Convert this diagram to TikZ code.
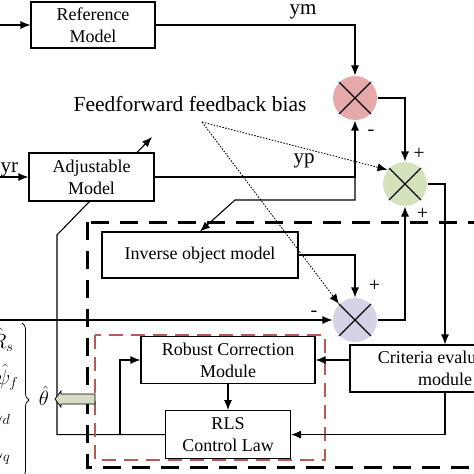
\documentclass[tikz,border=0pt]{standalone}
\usepackage{fontspec}
\setmainfont{Liberation Serif}
\usepackage{amsmath}
\usetikzlibrary{arrows.meta, backgrounds, calc, decorations.pathreplacing, positioning}
\tikzset{> = { Latex[length = 10pt, width = 8pt] }}

\definecolor{sumred}{HTML}{E6A9A9}
\definecolor{sumgreen}{HTML}{D5E3BD}
\definecolor{sumpurple}{HTML}{D6D1E4}
\definecolor{thetafill}{HTML}{D7DDC5}
\definecolor{dashred}{HTML}{B65A55}

\begin{document}
\begin{tikzpicture}[x = 1pt, y = -1pt, line width = 1.1pt,
		block/.style = { draw, fill = white, align = center, inner sep = 2pt, font = \fontsize{18}{22}\selectfont },
		sum/.style = { circle, minimum size = 44pt, inner sep = 0pt },
		sign/.style = { font = \fontsize{20}{22}\selectfont, inner sep = 0pt },
		lbl/.style = { font = \fontsize{21}{22}\selectfont, inner sep = 0pt },
		sym/.style = { font = \fontsize{22}{22}\selectfont, inner sep = 0pt },
		bigdash/.style = { line width = 3pt, dash pattern = on 18pt off 11pt },
		reddash/.style = { draw = dashred, line width = 1.1pt, dash pattern = on 14pt off 8pt },
		hint/.style = { ->, line width = 0.9pt, dash pattern = on 1.5pt off 1.5pt }]
		\useasboundingbox (0,0) rectangle (474,474);
		\clip (0,0) rectangle (474,474);

		\draw [bigdash] (87,222) rectangle (520,467);
		\draw [reddash] (95,335) rectangle (325,460);

		\node [block, minimum width = 124pt, minimum height = 46pt] (refm) at (93,25) {Reference\\Model};
		\node [block, minimum width = 125pt, minimum height = 48pt] (adjm) at (91.5,177) {Adjustable\\Model};
		\node [block, minimum width = 196pt, minimum height = 46pt] (invm) at (200,255) {Inverse object model};
		\node [block, minimum width = 174pt, minimum height = 47pt] (rcm) at (228,360) {Robust Correction\\Module};
		\node [block, minimum width = 125pt, minimum height = 48pt, below = 26pt of rcm] (rls) {RLS\\Control Law};
		\node [block, minimum width = 190pt, minimum height = 47pt] (crit) at (445,368.5) {Criteria evaluation\\module};

		\node [sum, fill = sumred]    (sumr) at (355,98) {};
		\node [sum, fill = sumgreen]  (sumg) at (405,184) {};
		\node [sum, fill = sumpurple] (sump) at (355,320) {};
		\foreach \s in {sumr, sumg, sump}
			\draw (\s.north west) -- (\s.south east) (\s.north east) -- (\s.south west);

		\coordinate (refin) at (0,25);
		\coordinate (adjin) at (0,177);
		\coordinate (estin) at (0,320);
		\coordinate (ypbend) at (235,200);
		\coordinate (adjfoot) at (57,235);
		\coordinate (adjtip) at (152,137);
		\coordinate (rcmbranch) at (120,433.5);
		\coordinate (fb) at (202,122);

		\draw [->] (refin) -- (refm);
		\draw [->] (adjin) -- (adjm);
		\node [lbl, anchor = base west] (yr) at (0,172) {yr};

		\draw [->] (refm.east) -| node [lbl, pos = 0.37, above = 5pt] {ym} (sumr.north);
		\draw [->] (adjm.east) -| node [lbl, pos = 0.373, above = 8pt] {yp} (sumr.south);
		\draw [->] (sumr.south |- adjm.east) -- ++(0,23) -- (ypbend) -- (invm.north);

		\draw [->] (sumr.east) -| (sumg.north);
		\draw [->] (sump.east) -| (sumg.south);
		\draw [->] (sumg.east) -| (crit.north);
		\draw [->] (invm.east) -| (sump.north);
		\draw [->] (estin) -- (sump.west);

		\node [sign] (mr) at (371,133) {-};
		\node [sign] (pg1) at (419,154) {+};
		\node [sign] (pg2) at (422.5,214) {+};
		\node [sign] (pp1) at (374.5,285.5) {+};
		\node [sign] (mp) at (314,314) {-};

		\draw [->] (crit.west |- rcm.east) -- (rcm.east);
		\draw [->] (crit.south) |- (rls.east);
		\draw [->] (rcm.south) -- (rls.north);

		\begin{scope}[on background layer]
			\draw [->, line width = 1.1pt] (rls.west) -| (adjfoot) -- (adjtip);
		\end{scope}
		\draw [->] (rcmbranch) |- (rcm.west);

		% estimated parameters
		\draw [fill = thetafill, line width = 0.8pt] (95,394) -- (61,394) -- (61,391) -- (55,399) -- (61,407) -- (61,404) -- (95,404) -- cycle;
		\node [sym] (theta) at (44,396) {$\hat{\theta}$};
		\draw [decorate, decoration = {brace, amplitude = 7pt}, line width = 0.8pt] (22,323) -- (22,477);
		\node [sym, anchor = base east] (rs) at (14,348) {$\hat{R}_s$};
		\node [sym, anchor = base east] (psif) at (19,384) {$\hat{\psi}_f$};
		\node [sym, anchor = base east] (ld) at (11,421) {$\hat{L}_d$};
		\node [sym, anchor = base east] (lq) at (11,458) {$\hat{L}_q$};

		\node [font = \fontsize{21.5}{24}\selectfont, anchor = base] (ffb) at (190,111) {Feedforward feedback bias};
		\draw [hint] (fb) -- (sumg.141);
		\draw [hint] (fb) -- (sump.north west);
	\end{tikzpicture}
\end{document}
